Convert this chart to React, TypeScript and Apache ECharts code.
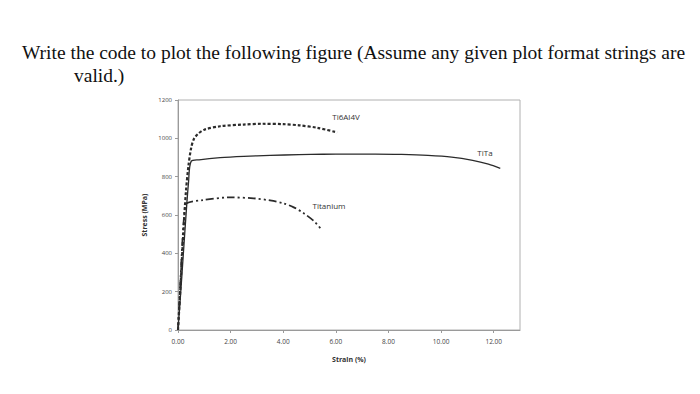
import React, { useEffect, useRef } from "react";
import * as echarts from "echarts";

const headingLine1 = "Write the code to plot the following figure (Assume any given plot format strings are";
const headingLine2 = "valid.)";

const xTicks = [0, 2, 4, 6, 8, 10, 12];
const yTicks = [0, 200, 400, 600, 800, 1000, 1200];

const ti6al4vStrain = [0, 0.1, 0.2, 0.3, 0.4, 0.5, 0.6, 0.75, 1.0, 1.6, 2.5, 3.2, 4.0, 4.6, 5.3, 6.05];
const ti6al4vStress = [0, 240, 500, 720, 860, 950, 995, 1022, 1045, 1063, 1072, 1076, 1074, 1068, 1055, 1031];

const titaStrain = [0, 0.1, 0.2, 0.3, 0.4, 0.5, 0.8, 1.6, 2.5, 3.5, 4.6, 5.5, 6.5, 7.5, 8.5, 9.5, 10.4, 11.2, 11.8, 12.25];
const titaStress = [0, 190, 390, 590, 770, 880, 888, 899, 906, 911, 915, 917, 918, 918, 916, 911, 902, 885, 865, 843];

const titaniumStrain = [0, 0.08, 0.16, 0.25, 0.33, 0.96, 1.98, 2.87, 3.5, 4.01, 4.4, 4.78, 5.15, 5.47];
const titaniumStress = [0, 220, 440, 620, 661, 678, 692, 687, 676, 661, 640, 609, 570, 522];

const zip = (xs: number[], ys: number[]) => xs.map((x, i) => [x, ys[i]]);

export default function App() {
  const ref = useRef<HTMLDivElement>(null);
  useEffect(() => {
    const chart = echarts.init(ref.current!, null, { renderer: "svg" });
    const lineColor = "#2b2b2b";
    const axisGray = "#9a9a9a";
    const serif = '19.5px "Liberation Serif", "DejaVu Serif", serif';
    const labelFont = '8px "Open Sans", sans-serif';
    chart.setOption({
      animation: false,
      backgroundColor: "#ffffff",
      grid: {
        left: 178,
        right: 180,
        top: 100,
        bottom: 64,
        show: true,
        borderColor: "#b0b0b0",
        borderWidth: 1,
      },
      graphic: [
        {
          type: "text",
          x: 22,
          y: 52,
          style: { text: headingLine1, font: serif, fill: "#111", verticalAlign: "middle" },
        },
        {
          type: "text",
          x: 74,
          y: 75,
          style: { text: headingLine2, font: serif, fill: "#111", verticalAlign: "middle" },
        },
        {
          type: "text",
          x: 346,
          y: 116,
          style: { text: "Ti6Al4V", font: labelFont, fill: "#333", align: "center", verticalAlign: "middle" },
        },
        {
          type: "text",
          x: 485,
          y: 152,
          style: { text: "TiTa", font: labelFont, fill: "#333", align: "center", verticalAlign: "middle" },
        },
        {
          type: "text",
          x: 329,
          y: 205,
          style: { text: "Titanium", font: labelFont, fill: "#333", align: "center", verticalAlign: "middle" },
        },
      ],
      xAxis: {
        type: "value",
        min: 0,
        max: 13,
        interval: 2,
        name: "Strain (%)",
        nameLocation: "middle",
        nameGap: 26,
        nameTextStyle: { fontSize: 7, fontWeight: "bold", color: "#333", fontFamily: "Open Sans" },
        axisLine: { show: true, lineStyle: { color: axisGray } },
        axisTick: { show: true, length: 3, lineStyle: { color: axisGray } },
        splitLine: { show: false },
        axisLabel: {
          fontSize: 6.5,
          color: "#444",
          margin: 8,
          fontFamily: "Open Sans",
          showMaxLabel: false,
          formatter: (v: number) => (xTicks.includes(v) ? v.toFixed(2) : ""),
        },
      },
      yAxis: {
        type: "value",
        min: 0,
        max: 1200,
        interval: 200,
        name: "Stress (MPa)",
        nameLocation: "middle",
        nameGap: 30,
        nameTextStyle: { fontSize: 7, fontWeight: "bold", color: "#333", fontFamily: "Open Sans" },
        axisLine: { show: true, lineStyle: { color: axisGray } },
        axisTick: { show: true, length: 3, lineStyle: { color: axisGray } },
        splitLine: { show: false },
        axisLabel: {
          fontSize: 6,
          color: "#444",
          margin: 6,
          fontFamily: "Open Sans",
          formatter: (v: number) => (yTicks.includes(v) ? String(v) : ""),
        },
      },
      series: [
        {
          name: "Ti6Al4V",
          type: "line",
          smooth: 0.3,
          showSymbol: false,
          data: zip(ti6al4vStrain, ti6al4vStress),
          lineStyle: { color: lineColor, width: 2.2, type: [3, 2] },
        },
        {
          name: "TiTa",
          type: "line",
          smooth: 0.3,
          showSymbol: false,
          data: zip(titaStrain, titaStress),
          lineStyle: { color: lineColor, width: 1.3, type: "solid" },
        },
        {
          name: "Titanium",
          type: "line",
          smooth: 0.3,
          showSymbol: false,
          data: zip(titaniumStrain, titaniumStress),
          lineStyle: { color: lineColor, width: 1.8, type: [8, 3, 2, 3, 2, 3] },
        },
      ],
    });
    return () => chart.dispose();
  }, []);
  return <div ref={ref} style={{ width: 700, height: 394, position: "absolute", left: 0, top: 0 }} />;
}
